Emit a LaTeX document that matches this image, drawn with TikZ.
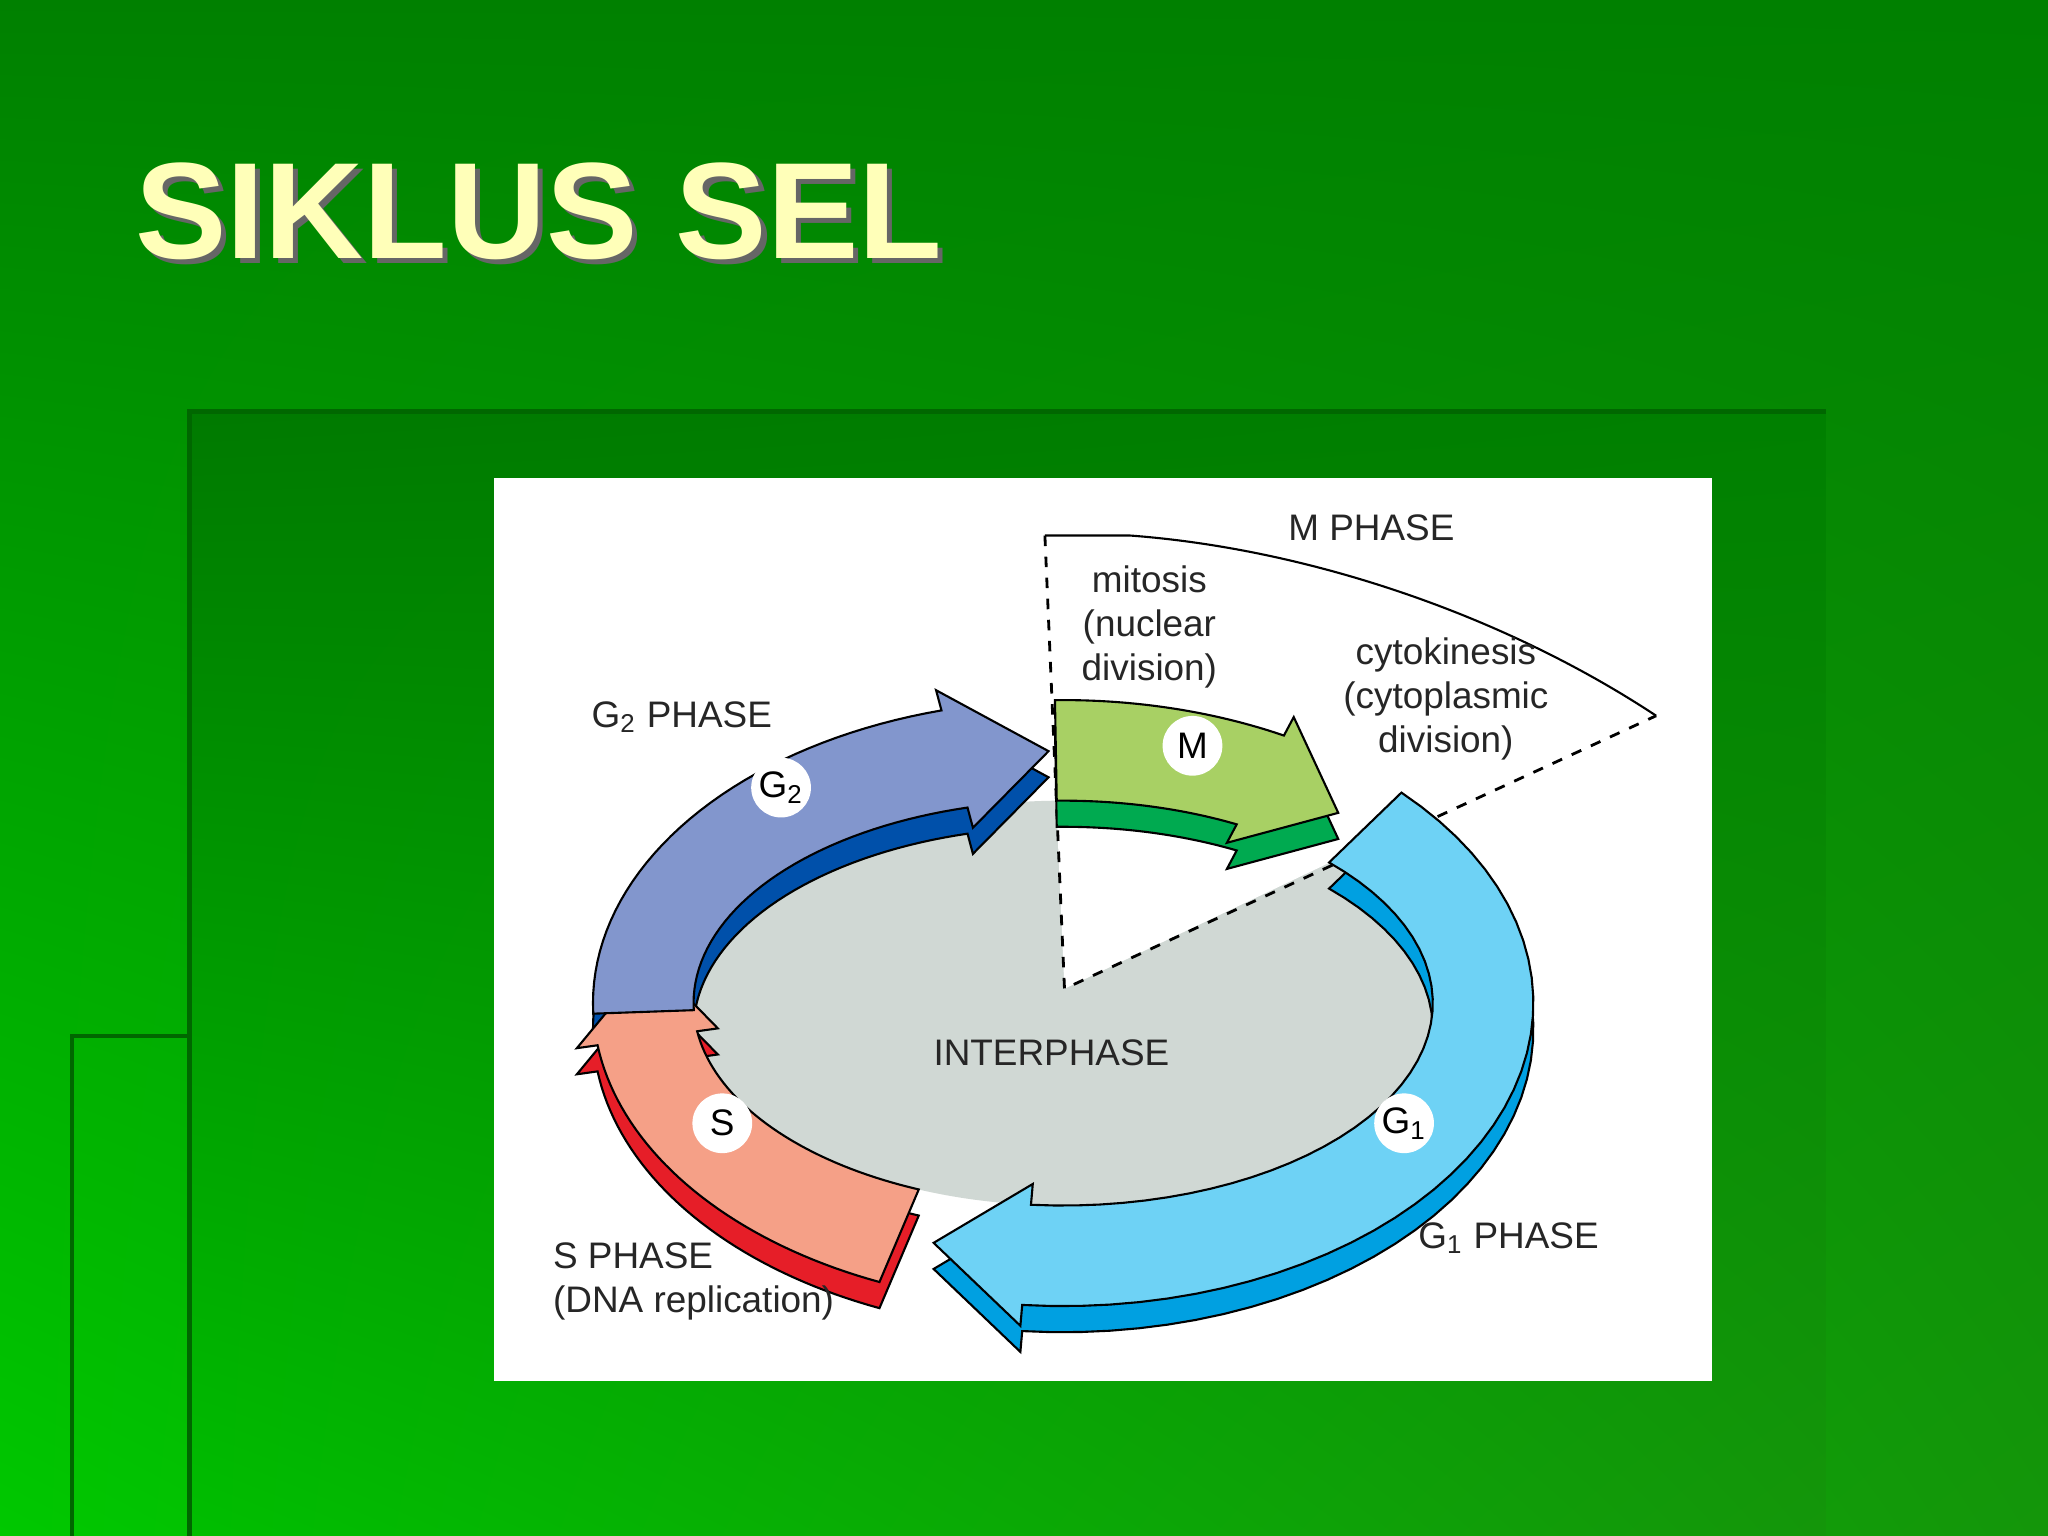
\documentclass[tikz,border=0pt]{standalone}
\usepackage{fontspec}
\setmainfont{Liberation Sans}
\usetikzlibrary{shadings}
\definecolor{bgTop}{RGB}{0,128,0}
\definecolor{bgLow}{RGB}{0,200,0}
\definecolor{bgMid}{RGB}{20,150,10}
\definecolor{titleYel}{RGB}{255,255,185}
\definecolor{ringGrey}{RGB}{208,216,212}
\definecolor{mTop}{RGB}{168,208,100}\definecolor{mDark}{RGB}{0,170,80}
\definecolor{gaTop}{RGB}{110,210,245}\definecolor{gaDark}{RGB}{0,160,225}
\definecolor{sTop}{RGB}{245,160,135}\definecolor{sDark}{RGB}{230,30,40}
\definecolor{gbTop}{RGB}{130,150,205}\definecolor{gbDark}{RGB}{0,80,170}
\tikzset{
  face/.style={draw=black, line width=0.6pt},
  lbl/.style={font=\fontsize{10.5}{12.5}\selectfont, align=center, text=black!85},
  badge/.style={circle, fill=white, minimum size=17pt, inner sep=0pt, font=\fontsize{10.5}{12}\selectfont}
}
% ring geometry (pixels of the slide)
\def\cx{814}\def\cy{768}
\def\ao{360}\def\bo{232}\def\ai{283}\def\bi{155}\def\am{321}\def\bm{193}
\def\phasearrow#1#2#3{plot[domain=#1:#2,samples=40] ({\cx+\ao*cos(\x)},{\cy-\bo*sin(\x)})
  -- ({\cx+(\ao+16)*cos(#2)},{\cy-(\bo+16)*sin(#2)})
  -- ({\cx+\am*cos(#3)},{\cy-\bm*sin(#3)})
  -- ({\cx+(\ai-16)*cos(#2)},{\cy-(\bi-16)*sin(#2)})
  -- plot[domain=#2:#1,samples=40] ({\cx+\ai*cos(\x)},{\cy-\bi*sin(\x)}) -- cycle}
\begin{document}
\begin{tikzpicture}[x=0.013061cm, y=-0.013061cm]
  \useasboundingbox (0,0) rectangle (1568,1176);
  % background
  \shade[upper left=bgTop, upper right=bgTop, lower left=bgLow, lower right=bgMid] (0,0) rectangle (1568,1176);
  \shade[upper left=bgTop!95!black, upper right=bgTop, lower left=bgLow!95!black, lower right=bgMid] (145,315) rectangle (1398,1176);
  \draw[bgTop!80!black, line width=1.5pt] (145,1176) -- (145,315) -- (1398,315);
  \draw[bgTop!80!black, line width=1pt] (55,1176) -- (55,793) -- (145,793);
  % title
  \node[text=black!60, font=\fontsize{39}{40}\selectfont\bfseries, anchor=west] at (98,166) {SIKLUS SEL};
  \node (title) [text=titleYel, font=\fontsize{39}{40}\selectfont\bfseries, anchor=west] at (94,162) {SIKLUS SEL};
  % panel
  \fill[white] (378,366) rectangle (1311,1057);
  % interphase core
  \fill[ringGrey] (\cx,\cy) ellipse [x radius=\ai, y radius=\bi];
  \fill[white] (815,757) -- (808,600) -- (1040,650) -- cycle;
  % M phase wedge
  \draw[dashed, line width=0.8pt] (800,410) -- (815,757) -- (1268,548);
  \draw[line width=0.6pt] (800,410) -- (865,410) .. controls (1000,420) and (1150,470) .. (1268,548);
  % side walls
  \begin{scope}[shift={(0,20)}]
    \fill[face, fill=mDark] \phasearrow{91}{62}{49};
    \fill[face, fill=gaDark] \phasearrow{44}{-95}{-108};
    \fill[face, fill=sDark] \phasearrow{-113}{-172}{-190};
    \fill[face, fill=gbDark] \phasearrow{182}{105}{92};
  \end{scope}
  % top faces
  \fill[face, fill=mTop] \phasearrow{91}{62}{49};
  \fill[face, fill=gaTop] \phasearrow{44}{-95}{-108};
  \fill[face, fill=sTop] \phasearrow{-113}{-172}{-190};
  \fill[face, fill=gbTop] \phasearrow{182}{105}{92};
  % badges
  \node (gtwo) [badge] at (598,603) {G\textsubscript{2}};
  \node (mit) [badge] at (913,571) {M};
  \node (gone) [badge] at (1075,860) {G\textsubscript{1}};
  \node (syn) [badge] at (553,860) {S};
  % labels
  \node (mph) [lbl] at (1050,404) {M PHASE};
  \node (mitl) [lbl] at (880,480) {mitosis\\(nuclear\\division)};
  \node (cyto) [lbl] at (1107,535) {cytokinesis\\(cytoplasmic\\division)};
  \node (gtwol) [lbl] at (522,549) {G\textsubscript{2} PHASE};
  \node (inter) [lbl] at (805,806) {INTERPHASE};
  \node (gonel) [lbl] at (1155,948) {G\textsubscript{1} PHASE};
  \node (synl) [lbl, align=left, anchor=west] at (414,981) {S PHASE\\(DNA replication)};
\end{tikzpicture}
\end{document}
